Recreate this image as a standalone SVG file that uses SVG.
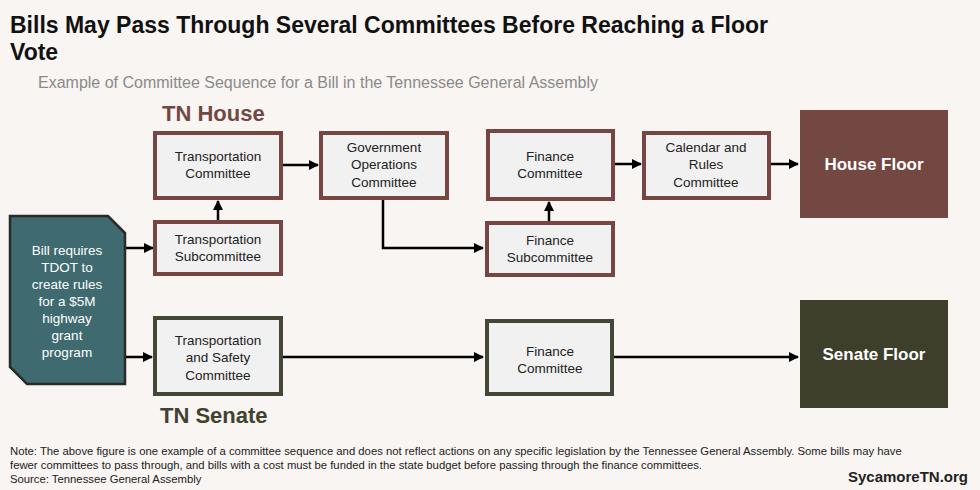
<svg xmlns="http://www.w3.org/2000/svg" width="980" height="490" viewBox="0 0 980 490">
<defs><marker id="ah" viewBox="0 0 10 10" refX="9" refY="5" markerWidth="4" markerHeight="4" orient="auto"><path d="M0,0L10,5L0,10z" fill="#000"/></marker></defs>
<style>
text{font-family:"Liberation Sans",Arial,sans-serif}
.h rect{fill:#f1f1f1;stroke:#774643;stroke-width:4}
.s rect{fill:#f1f1f1;stroke:#434733;stroke-width:4}
.t{font-size:13.5px;fill:#222;text-anchor:middle}
.w{font-size:17px;font-weight:bold;fill:#fff;text-anchor:middle}
.c path{fill:none;stroke:#000;stroke-width:2.5;marker-end:url(#ah)}
.n{font-size:11.3px;fill:#222}
</style>
<rect width="980" height="490" fill="#f9f5f2"/>
<text x="10" y="33" font-size="23" font-weight="bold" fill="#111">Bills May Pass Through Several Committees Before Reaching a Floor</text>
<text x="10" y="60" font-size="23" font-weight="bold" fill="#111">Vote</text>
<text x="38" y="88" font-size="16" fill="#8a8a8a">Example of Committee Sequence for a Bill in the Tennessee General Assembly</text>
<text x="162" y="121" font-size="22" font-weight="bold" fill="#734842">TN House</text>
<text x="160" y="423" font-size="22" font-weight="bold" fill="#3f4330">TN Senate</text>
<g class="c">
<path d="M125,248H153"/><path d="M125,357H152"/>
<path d="M218,221V201"/><path d="M282,165H318"/>
<path d="M383,199V248H483"/><path d="M549,222V202"/>
<path d="M614,164H641"/><path d="M770,164H798"/>
<path d="M282,357H483"/><path d="M613,357H798"/>
</g>
<g id="bill"><path d="M10,216H108L125,233V384H27L10,367Z" fill="#3f6a70" stroke="#2a2a2a" stroke-width="2.5"/>
<text class="t" fill="#fff" style="fill:#fff;font-size:13.5px"><tspan x="67" y="255">Bill requires</tspan><tspan x="67" y="272">TDOT to</tspan><tspan x="67" y="289">create rules</tspan><tspan x="67" y="306">for a $5M</tspan><tspan x="67" y="323">highway</tspan><tspan x="67" y="340">grant</tspan><tspan x="67" y="357">program</tspan></text></g>
<g id="tc" class="h"><rect x="155" y="133" width="126" height="65"/><text class="t"><tspan x="218" y="161">Transportation</tspan><tspan x="218" y="178">Committee</tspan></text></g>
<g id="tsub" class="h"><rect x="155" y="222" width="126" height="52"/><text class="t"><tspan x="218" y="244">Transportation</tspan><tspan x="218" y="261">Subcommittee</tspan></text></g>
<g id="gov" class="h"><rect x="321" y="133" width="126" height="65"/><text class="t"><tspan x="384" y="152">Government</tspan><tspan x="384" y="169">Operations</tspan><tspan x="384" y="187">Committee</tspan></text></g>
<g id="fc" class="h"><rect x="488" y="131" width="125" height="68"/><text class="t"><tspan x="550" y="161">Finance</tspan><tspan x="550" y="178">Committee</tspan></text></g>
<g id="fsub" class="h"><rect x="487" y="223" width="126" height="52"/><text class="t"><tspan x="550" y="245">Finance</tspan><tspan x="550" y="262">Subcommittee</tspan></text></g>
<g id="cal" class="h"><rect x="644" y="133" width="125" height="65"/><text class="t"><tspan x="706" y="152">Calendar and</tspan><tspan x="706" y="169">Rules</tspan><tspan x="706" y="187">Committee</tspan></text></g>
<g id="hf"><rect x="800" y="110" width="148" height="108" fill="#744842"/><text class="w" x="874" y="170">House Floor</text></g>
<g id="tsc" class="s"><rect x="155" y="318" width="126" height="76"/><text class="t"><tspan x="218" y="345">Transportation</tspan><tspan x="218" y="362">and Safety</tspan><tspan x="218" y="380">Committee</tspan></text></g>
<g id="sfc" class="s"><rect x="487" y="321" width="125" height="73"/><text class="t"><tspan x="550" y="356">Finance</tspan><tspan x="550" y="373">Committee</tspan></text></g>
<g id="sf"><rect x="800" y="300" width="148" height="108" fill="#3d3f2b"/><text class="w" x="874" y="360">Senate Floor</text></g>
<text class="n" x="10" y="455">Note: The above figure is one example of a committee sequence and does not reflect actions on any specific legislation by the Tennessee General Assembly. Some bills may have</text>
<text class="n" x="10" y="469">fewer committees to pass through, and bills with a cost must be funded in the state budget before passing through the finance committees.</text>
<text class="n" x="10" y="483">Source: Tennessee General Assembly</text>
<text x="968" y="482" font-size="15" font-weight="bold" fill="#222" text-anchor="end">SycamoreTN.org</text>
</svg>
